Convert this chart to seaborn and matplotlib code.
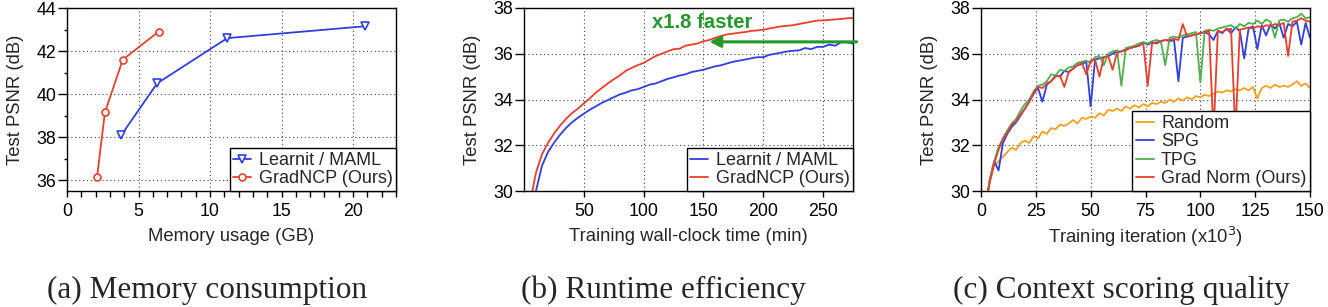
import numpy as np
import pandas as pd
import seaborn as sns
import matplotlib.pyplot as plt
from matplotlib.ticker import MultipleLocator

# (a) memory consumption
maml_mem = [3.8, 6.3, 11.2, 20.8]
maml_psnr_a = [38.1, 40.5, 42.6, 43.15]
ncp_mem = [2.1, 2.65, 3.9, 6.4]
ncp_psnr_a = [36.15, 39.15, 41.6, 42.9]

# (b) runtime efficiency
time_red = [7, 10, 15, 20, 25, 30, 35, 40, 45, 50, 55, 60, 65, 70, 75, 80, 85, 90, 95, 100,
            105, 110, 115, 120, 125, 130, 135, 140, 145, 150, 155, 160, 165, 170, 175, 180,
            185, 190, 195, 200, 205, 210, 215, 220, 225, 230, 235, 240, 245, 250, 255, 260,
            265, 270, 275]
ncp_psnr_b = [30.0, 30.8, 31.6, 32.1, 32.5, 32.85, 33.15, 33.4, 33.6, 33.83, 34.05, 34.3, 34.5,
              34.7, 34.88, 35.05, 35.25, 35.38, 35.5, 35.6, 35.75, 35.9, 36.0, 36.1, 36.2, 36.22,
              36.35, 36.4, 36.45, 36.55, 36.6, 36.7, 36.78, 36.85, 36.88, 36.92, 36.95, 37.0,
              37.02, 37.05, 37.1, 37.15, 37.2, 37.22, 37.25, 37.3, 37.35, 37.4, 37.45, 37.46,
              37.48, 37.5, 37.52, 37.55, 37.56]
time_blue = [10, 15, 20, 25, 30, 35, 40, 45, 50, 55, 60, 65, 70, 75, 80, 85, 90, 95, 100, 105,
             110, 115, 120, 125, 130, 135, 140, 145, 150, 155, 160, 165, 170, 175, 180, 185,
             190, 195, 200, 205, 210, 215, 220, 225, 230, 235, 240, 245, 250, 255, 260, 265,
             270, 275]
maml_psnr_b = [30.0, 31.1, 31.7, 32.1, 32.45, 32.75, 33.0, 33.2, 33.38, 33.55, 33.7, 33.85,
               33.97, 34.1, 34.22, 34.3, 34.4, 34.45, 34.55, 34.65, 34.7, 34.8, 34.9, 34.97,
               35.05, 35.1, 35.2, 35.25, 35.3, 35.38, 35.45, 35.5, 35.58, 35.65, 35.7, 35.75,
               35.8, 35.85, 35.85, 35.95, 36.0, 36.05, 36.1, 36.13, 36.15, 36.25, 36.2, 36.3,
               36.3, 36.4, 36.35, 36.5, 36.5, 36.45]

# (c) context scoring quality
iters = list(range(2, 152, 2))
random_psnr = [29.3, 30.4, 31.1, 31.3, 31.5, 31.7, 31.9, 31.8, 32.1, 32.2, 32.1, 32.4, 32.3, 32.6,
               32.5, 32.75, 32.7, 32.9, 32.85, 32.95, 33.1, 32.95, 33.2, 33.15, 33.25, 33.2, 33.4,
               33.3, 33.55, 33.5, 33.6, 33.5, 33.7, 33.6, 33.75, 33.65, 33.8, 33.7, 33.85, 33.8,
               33.9, 33.85, 34.0, 33.9, 34.05, 33.95, 34.1, 34.0, 34.15, 34.1, 34.2, 34.15, 34.25,
               34.35, 34.3, 34.4, 34.35, 34.45, 34.4, 34.5, 34.4, 34.55, 34.05, 34.5, 34.6, 34.5,
               34.65, 34.55, 34.6, 34.55, 34.65, 34.8, 34.6, 34.7, 34.5]
spg_psnr = [29.3, 30.5, 31.3, 30.9, 32.1, 32.5, 32.8, 33.0, 33.3, 33.6, 33.9, 34.25, 34.5, 33.9,
            34.65, 34.8, 35.05, 35.0, 35.25, 35.2, 35.35, 35.5, 35.55, 35.65, 33.7, 35.75, 35.8,
            35.85, 35.9, 36.0, 36.1, 36.1, 36.2, 36.25, 36.3, 36.35, 36.5, 36.4, 36.5, 36.45,
            36.55, 36.6, 36.55, 36.6, 34.8, 36.7, 36.75, 36.8, 36.85, 36.9, 36.95, 36.85, 36.6,
            37.0, 36.9, 37.1, 36.9, 37.15, 37.0, 35.8, 37.1, 37.2, 36.2, 37.25, 36.8, 37.3, 37.1,
            37.35, 36.7, 37.3, 37.2, 37.4, 36.4, 37.35, 36.7]
tpg_psnr = [29.3, 30.5, 31.3, 31.9, 32.3, 32.65, 32.95, 33.15, 33.5, 33.8, 34.0, 34.35, 34.6,
            34.65, 34.8, 35.1, 35.05, 35.3, 35.25, 35.4, 35.45, 35.6, 35.65, 35.7, 35.6, 35.85,
            35.9, 35.5, 36.0, 36.1, 36.15, 34.6, 36.25, 36.3, 36.35, 36.45, 36.5, 36.45, 36.55,
            36.6, 36.55, 35.5, 36.7, 36.75, 36.7, 36.8, 36.85, 36.9, 36.95, 34.75, 37.0, 37.05,
            37.0, 37.1, 37.15, 37.2, 37.25, 37.1, 37.3, 37.2, 37.35, 37.3, 37.45, 37.3, 37.5,
            37.4, 36.7, 37.45, 37.5, 37.4, 37.55, 37.6, 37.75, 37.55, 37.6]
gradnorm_psnr = [29.3, 30.4, 31.2, 31.8, 32.3, 32.55, 32.9, 33.05, 33.35, 33.6, 33.9, 34.3, 34.55,
                 34.5, 34.7, 34.8, 35.0, 35.05, 34.55, 35.2, 35.35, 35.5, 35.6, 35.1, 35.7, 35.75,
                 35.0, 35.85, 35.9, 35.3, 36.05, 36.1, 36.15, 36.25, 36.3, 36.35, 36.45, 34.6,
                 36.45, 36.5, 36.55, 36.6, 36.6, 36.65, 36.6, 37.3, 36.75, 36.8, 36.85, 36.9,
                 36.95, 37.0, 32.5, 37.0, 36.95, 37.05, 37.1, 32.5, 37.05, 37.1, 37.15, 37.1,
                 37.2, 37.15, 37.25, 37.2, 37.3, 37.25, 37.35, 35.9, 37.4, 37.45, 37.55, 37.45, 37.4]
methods_c = ['Random', 'SPG', 'TPG', 'Grad Norm (Ours)']

BLUE = '#2f3fe0'
RED = '#e6402c'
ORANGE = '#f5a01e'
GREEN = '#4fae50'
ARROW_GREEN = '#24992a'

sns.set_style('ticks')
plt.rcParams['font.family'] = ['Liberation Sans', 'DejaVu Sans']
plt.rcParams['axes.linewidth'] = 1.0
plt.rcParams['xtick.labelsize'] = 12.8
plt.rcParams['ytick.labelsize'] = 12.8
plt.rcParams['axes.labelsize'] = 13.3
plt.rcParams['xtick.color'] = 'black'
plt.rcParams['ytick.color'] = 'black'
plt.rcParams['axes.edgecolor'] = 'black'

fig = plt.figure(figsize=(13.28, 3.07), dpi=100)
W, H = 1328, 307
lefts = [67, 524, 981]
axes = [fig.add_axes([l / W, 1 - 191 / H, 329 / W, 183 / H]) for l in lefts]
for ax in axes:
    for s in ax.spines.values():
        s.set_visible(True)
        s.set_color('black')
        s.set_linewidth(1.0)
    ax.tick_params(axis='x', direction='out', length=4, width=1, pad=4.5)
    ax.tick_params(axis='y', direction='out', length=6.5, width=1, pad=1)
    ax.grid(True, which='major', linestyle=(0, (1, 2.5)), color='#444444', linewidth=0.8)
    ax.set_axisbelow(True)


def style_legend(ax, handles, labels):
    leg = ax.legend(handles, labels, loc='lower right', fontsize=13, frameon=True,
                    fancybox=False, framealpha=1, edgecolor='black', borderaxespad=0,
                    borderpad=0.2, labelspacing=0.08, handlelength=1.0, handletextpad=0.4)
    leg.get_frame().set_linewidth(1.0)
    leg.set_zorder(10)
    return leg


# (a)
ax = axes[0]
sns.lineplot(x=maml_mem, y=maml_psnr_a, ax=ax, color=BLUE, lw=1.3, marker='v', markersize=6,
             markerfacecolor='white', markeredgecolor=BLUE, markeredgewidth=1.2, sort=False,
             label='Learnit / MAML')
sns.lineplot(x=ncp_mem, y=ncp_psnr_a, ax=ax, color=RED, lw=1.3, marker='o', markersize=5,
             markerfacecolor='white', markeredgecolor=RED, markeredgewidth=1.2, sort=False,
             label='GradNCP (Ours)')
ax.set_xlim(0, 23)
ax.set_ylim(35.5, 44)
ax.xaxis.set_major_locator(MultipleLocator(5))
ax.xaxis.set_minor_locator(MultipleLocator(1))
ax.yaxis.set_major_locator(MultipleLocator(2))
ax.yaxis.set_minor_locator(MultipleLocator(1))
ax.tick_params(axis='x', which='minor', direction='out', length=4, width=1)
ax.tick_params(axis='y', which='minor', direction='out', length=2.5, width=1)
ax.set_xlabel('Memory usage (GB)', labelpad=6)
ax.set_ylabel('Test PSNR (dB)', labelpad=9)
h, l = ax.get_legend_handles_labels()
style_legend(ax, h, l)

# (b)
ax = axes[1]
sns.lineplot(x=time_blue, y=maml_psnr_b, ax=ax, color=BLUE, lw=1.3, label='Learnit / MAML')
sns.lineplot(x=time_red, y=ncp_psnr_b, ax=ax, color=RED, lw=1.3, label='GradNCP (Ours)')
ax.set_xlim(0, 275)
ax.set_ylim(30, 38)
ax.set_xticks([50, 100, 150, 200, 250])
ax.yaxis.set_major_locator(MultipleLocator(2))
ax.set_xlabel('Training wall-clock time (min)', labelpad=6)
ax.set_ylabel('Test PSNR (dB)', labelpad=9)
ax.annotate('', xy=(155, 36.52), xytext=(278, 36.52), annotation_clip=False,
            arrowprops=dict(arrowstyle='-|>', color=ARROW_GREEN, lw=2.2, mutation_scale=16,
                            shrinkA=0, shrinkB=0), zorder=6)
ax.text(107, 37.12, 'x1.8 faster', color=ARROW_GREEN, fontsize=14.6, fontweight='bold',
        ha='left', va='baseline')
h, l = ax.get_legend_handles_labels()
style_legend(ax, h, l)

# (c)
ax = axes[2]
df_c = pd.DataFrame({
    'iter': iters * 4,
    'psnr': random_psnr + spg_psnr + tpg_psnr + gradnorm_psnr,
    'method': np.repeat(methods_c, len(iters)),
})
sns.lineplot(data=df_c, x='iter', y='psnr', hue='method', hue_order=methods_c,
             palette=[ORANGE, BLUE, GREEN, RED], lw=1.3, errorbar=None, ax=ax)
ax.set_xlim(0, 150)
ax.set_ylim(30, 38)
ax.xaxis.set_major_locator(MultipleLocator(25))
ax.yaxis.set_major_locator(MultipleLocator(2))
ax.set_xlabel('Training iteration (x10$^3$)', labelpad=4)
ax.set_ylabel('Test PSNR (dB)', labelpad=9)
h, l = ax.get_legend_handles_labels()
style_legend(ax, h, l)

captions = [(207, '(a) Memory consumption'), (663, '(b) Runtime efficiency'),
            (1121, '(c) Context scoring quality')]
for cx, txt in captions:
    fig.text(cx / W, 1 - 290 / H, txt, ha='center', va='center', fontsize=22.5,
             family=['Liberation Serif', 'DejaVu Serif'])

fig.savefig('out.png', dpi=100)
